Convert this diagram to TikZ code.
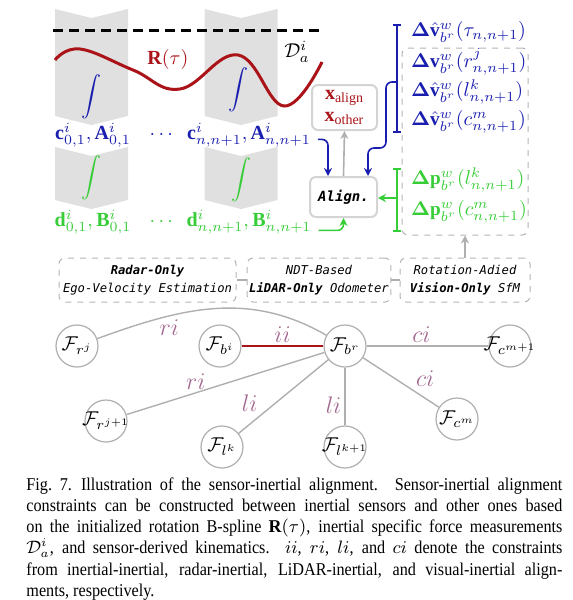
\documentclass[tikz,border=0pt]{standalone}
\usepackage{amsmath,amssymb}
\usepackage{fontspec}
\setmainfont{Liberation Serif}
\newfontfamily\codefont{DejaVu Sans Mono}
\newfontfamily\capfont[FakeStretch=0.9]{Liberation Serif}
\usetikzlibrary{arrows.meta,calc}
\definecolor{curvered}{RGB}{170,20,25}
\definecolor{intblue}{RGB}{25,30,175}
\definecolor{intgreen}{RGB}{55,205,55}
\definecolor{chevgray}{RGB}{224,224,224}
\definecolor{boxgray}{RGB}{212,212,212}
\definecolor{edgegray}{RGB}{175,175,175}
\definecolor{edgelabel}{RGB}{165,105,145}

\begin{document}
\begin{tikzpicture}[x=0.5pt,y=0.5pt,>=Stealth,
  solidbox/.style={draw=boxgray,line width=1pt,rounded corners=3pt,fill=white,inner sep=1pt},
  dashbox/.style={draw=boxgray!85!black,dashed,line width=0.5pt,rounded corners=3pt,inner sep=1pt},
  bluearr/.style={intblue,line width=0.8pt,-{Stealth[length=4pt,width=4pt]},rounded corners=3pt},
  greenarr/.style={intgreen,line width=0.8pt,-{Stealth[length=4pt,width=4pt]},rounded corners=3pt},
  grayarr/.style={edgegray,line width=0.8pt,-{Stealth[length=4pt,width=4pt]}},
  bracket/.style={line width=0.8pt,{Bar[width=4pt]}-{Bar[width=4pt]}},
  kinlabel/.style={anchor=west,font=\fontsize{9.6}{11}\selectfont},
  codebox/.style={dashbox,align=center,minimum height=22pt,font={\codefont\fontsize{6.1}{9}\selectfont\itshape}},
  fnode/.style={circle,draw=edgegray,line width=0.6pt,minimum size=21pt,inner sep=0pt,fill=white},
  edge/.style={edgegray,line width=0.7pt},
  elabel/.style={text=edgelabel,font=\large,inner sep=1.5pt}]
\useasboundingbox (0,0) rectangle (573,-600);
\foreach \cx in {91.5,241} {
  \fill[chevgray] (\cx-36.5,-9) -- (\cx,-18) -- (\cx+36.5,-9) -- (\cx+36.5,-116) -- (\cx,-125) -- (\cx-36.5,-116) -- cycle;
  \fill[chevgray] (\cx-36.5,-147) -- (\cx,-156) -- (\cx+36.5,-147) -- (\cx+36.5,-200) -- (\cx,-209) -- (\cx-36.5,-200) -- cycle;
}
\draw[line width=1.5pt,dash pattern=on 5pt off 3pt] (53,-30) -- (322,-30);
\draw[curvered,line width=1.5pt] plot[smooth,tension=0.7] coordinates {(55,-60) (80,-49) (133,-70) (180,-89) (238,-55) (284,-106) (322,-62)};
\node[text=curvered] (rtau) at (168,-59) {$\mathbf{R}(\tau)$};
\node (dai) at (297,-52) {$\mathcal{D}^i_a$};
\node[text=intblue] (int1) at (91,-97) {$\displaystyle\int$};
\node[text=intblue] (int2) at (238,-90) {$\displaystyle\int$};
\node[text=intgreen] (int3) at (91,-178) {$\displaystyle\int$};
\node[text=intgreen] (int4) at (241,-180) {$\displaystyle\int$};
\node[text=intblue] (ca) at (93,-135) {$\mathbf{c}^i_{0,1},\mathbf{A}^i_{0,1}$};
\node[text=intblue] (cdots) at (163,-135) {$\cdots$};
\node[text=intblue] (cn) at (249,-135) {$\mathbf{c}^i_{n,n+1},\mathbf{A}^i_{n,n+1}$};
\node[text=intgreen] (da) at (93,-222) {$\mathbf{d}^i_{0,1},\mathbf{B}^i_{0,1}$};
\node[text=intgreen] (ddots) at (163,-222) {$\cdots$};
\node[text=intgreen] (dn) at (249,-222) {$\mathbf{d}^i_{n,n+1},\mathbf{B}^i_{n,n+1}$};
\node[solidbox,minimum width=32.5pt,minimum height=22.5pt,align=center,text=curvered] (xbox) at (344.5,-107.5) {$\mathbf{x}_{\mathrm{align}}$\\[-1pt]$\mathbf{x}_{\mathrm{other}}$};
\node[solidbox,minimum width=33.5pt,minimum height=20pt,font={\codefont\fontsize{7}{8}\selectfont\bfseries\itshape}] (align) at (343.5,-197) {Align.};
\node[dashbox,minimum width=63pt,minimum height=93.5pt] (pbox) at (465,-141.5) {};
\node[kinlabel,text=intblue] (v1) at (404,-32) {$\boldsymbol{\Delta}\hat{\mathbf{v}}^w_{b^r}(\tau_{n,n+1})$};
\node[kinlabel,text=intblue] (v2) at (404,-62) {$\boldsymbol{\Delta}\mathbf{v}^w_{b^r}(r^j_{n,n+1})$};
\node[kinlabel,text=intblue] (v3) at (404,-92) {$\boldsymbol{\Delta}\hat{\mathbf{v}}^w_{b^r}(l^k_{n,n+1})$};
\node[kinlabel,text=intblue] (v4) at (404,-122) {$\boldsymbol{\Delta}\hat{\mathbf{v}}^w_{b^r}(c^m_{n,n+1})$};
\node[kinlabel,text=intgreen] (p1) at (404,-180) {$\boldsymbol{\Delta}\mathbf{p}^w_{b^r}(l^k_{n,n+1})$};
\node[kinlabel,text=intgreen] (p2) at (404,-212) {$\boldsymbol{\Delta}\mathbf{p}^w_{b^r}(c^m_{n,n+1})$};
\coordinate (vtop) at (397,-24);
\coordinate (vbot) at (397,-133);
\coordinate (vmid) at (397,-82);
\coordinate (vbend) at (386,-148);
\coordinate (ptop) at (397,-168);
\coordinate (pbot) at (397,-232);
\coordinate (pmid) at (397,-198);
\draw[bracket,intblue] (vtop) -- (vbot);
\draw[bracket,intgreen] (ptop) -- (pbot);
\draw[bluearr] (vmid) -| (vbend) -| ([xshift=12.25pt]align.north);
\draw[bluearr] (cn.base east) -| ([xshift=-7.75pt]align.north);
\draw[greenarr] (pmid) -- (pmid -| align.east);
\draw[greenarr] ([yshift=-2pt]dn.base east) -| (align.south);
\draw[grayarr] (align.north) -- (xbox.south);
\node[codebox,minimum width=88.5pt] (radar) at (147.5,-280) {\textbf{Radar-Only}\\Ego-Velocity Estimation};
\node[codebox,minimum width=71pt] (lidar) at (319,-280) {NDT-Based\\\textbf{LiDAR-Only} Odometer};
\node[codebox,minimum width=65pt] (vision) at (465,-280) {Rotation-Adied\\\textbf{Vision-Only} SfM};
\draw[edge] (radar) -- (lidar);
\draw[edge] (lidar) -- (vision);
\draw[grayarr] (vision) -- (pbox.south);
\node[fnode,label=center:$\mathcal{F}_{r^j}$] (frj) at (77,-346) {};
\node[fnode,label=center:$\mathcal{F}_{b^i}$] (fbi) at (220,-346) {};
\node[fnode,label=center:$\mathcal{F}_{b^r}$] (fbr) at (345,-346) {};
\node[fnode,label=center:$\mathcal{F}_{c^{m+1}}$] (fcm1) at (510,-346) {};
\node[fnode,label=center:$\mathcal{F}_{r^{j+1}}$] (frj1) at (106,-421) {};
\node[fnode,label=center:$\mathcal{F}_{l^k}$] (flk) at (222,-447) {};
\node[fnode,label=center:$\mathcal{F}_{l^{k+1}}$] (flk1) at (345,-447) {};
\node[fnode,label=center:$\mathcal{F}_{c^m}$] (fcm) at (457,-419) {};
\draw[edge] (frj) to[out=20,in=150] node[elabel,below,pos=0.3] {$ri$} (fbr);
\draw[curvered,line width=1pt] (fbi) -- node[elabel,above] {$ii$} (fbr);
\draw[edge] (fbr) -- node[elabel,above,pos=0.45] {$ci$} (fcm1);
\draw[edge] (frj1) -- node[elabel,above,pos=0.35] {$ri$} (fbr);
\draw[edge] (flk) -- node[elabel,above left,pos=0.25] {$li$} (fbr);
\draw[edge] (flk1) -- node[elabel,left,pos=0.35] {$li$} (fbr);
\draw[edge] (fbr) -- node[elabel,above right,pos=0.65] {$ci$} (fcm);
\node[anchor=north west,text width=268pt,align=justify,inner sep=0pt,font=\capfont\fontsize{9}{10.65}\selectfont] (caption) at (26,-477) {Fig.~7.\enskip Illustration of the sensor-inertial alignment. Sensor-inertial alignment\linebreak constraints can be constructed between inertial sensors and other ones based\linebreak on the initialized rotation B-spline $\mathbf{R}(\tau)$, inertial specific force measurements\linebreak $\mathcal{D}^i_a$, and sensor-derived kinematics. $ii$, $ri$, $li$, and $ci$ denote the constraints\linebreak from inertial-inertial, radar-inertial, LiDAR-inertial, and visual-inertial align-\linebreak ments, respectively.};
\end{tikzpicture}
\end{document}
